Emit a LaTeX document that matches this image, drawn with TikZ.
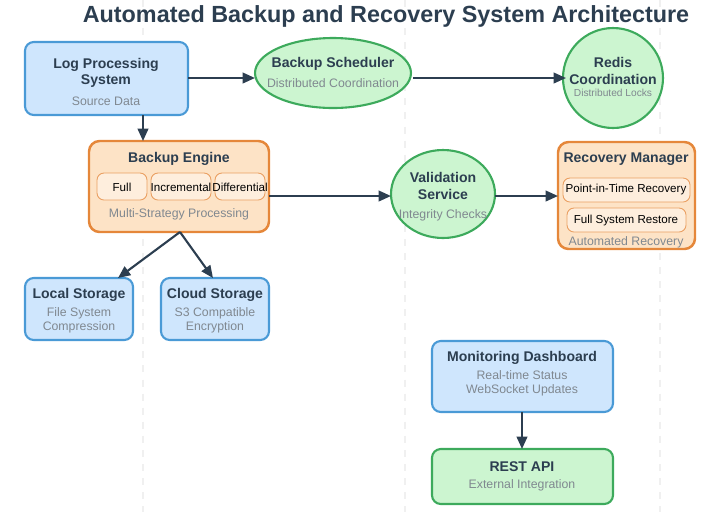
\documentclass[tikz,border=0pt]{standalone}
\usepackage{fontspec}
\setmainfont{Liberation Sans}
\usetikzlibrary{arrows.meta,shapes.geometric}
\definecolor{ink}{HTML}{2C3E50}
\definecolor{bfill}{HTML}{CFE6FD}\definecolor{bline}{HTML}{4A9AD6}
\definecolor{gfill}{HTML}{CCF5D0}\definecolor{gline}{HTML}{3DAA5C}
\definecolor{ofill}{HTML}{FDE3C6}\definecolor{oline}{HTML}{E5873A}
\definecolor{sub}{HTML}{808890}
\begin{document}
\begin{tikzpicture}[x=0.02cm,y=-0.02cm,
 every node/.style={font=\fontsize{8pt}{9.2pt}\selectfont\bfseries,text=ink,align=center,inner sep=0pt},
 blue/.style={draw=bline,line width=1.2pt,fill=bfill,rounded corners=5pt},
 green/.style={draw=gline,line width=1.2pt,fill=gfill},
 orange/.style={draw=oline,line width=1.4pt,fill=ofill,rounded corners=6pt},
 pill/.style={draw=oline!80,line width=0.5pt,fill=ofill!60,rounded corners=4pt},
 st/.style={font=\fontsize{7pt}{7.8pt}\selectfont,text=sub},
 sm/.style={font=\fontsize{6.6pt}{7pt}\selectfont,text=black},
 arr/.style={draw=ink,line width=1.2pt,-{Triangle[length=7pt,width=6pt]}},
 grid/.style={draw=gray!12,dash pattern=on 4pt off 4pt,line width=0.6pt}]
\useasboundingbox (0,0) rectangle (710,512);
\draw[grid] (143,0)--(143,512); \draw[grid] (405,0)--(405,512); \draw[grid] (660,0)--(660,512);
\node[font=\fontsize{13.3pt}{14pt}\selectfont\bfseries] (title) at (386,16) {Automated Backup and Recovery System Architecture};
% log
\draw[blue] (25,42) rectangle (188,115);
\node at (106,73) {Log Processing\\System}; \node[st] at (106,101) {Source Data};
\coordinate (logE) at (188,78); \coordinate (logS) at (143,115);
% scheduler
\node[green,ellipse,minimum width=3.12cm,minimum height=1.4cm] (sch) at (333,73) {};
\node at (333,64) {Backup Scheduler}; \node[st] at (333,83) {Distributed Coordination};
\coordinate (schW) at (255,78); \coordinate (schE) at (413,78);
% redis
\node[green,circle,minimum size=2cm] (redis) at (613,78) {};
\node at (613,71) {Redis\\Coordination}; \node[font=\fontsize{5.8pt}{6pt}\selectfont,text=sub] at (613,93) {Distributed Locks};
\coordinate (redW) at (566,78);
% engine
\draw[orange] (89,141) rectangle (269,232);
\node at (179,159) {Backup Engine};
\draw[pill] (97,173) rectangle (147,200); \node[sm] at (122,187) {Full};
\draw[pill] (151,173) rectangle (211,200); \node[sm] at (181,187) {Incremental};
\draw[pill] (215,173) rectangle (265,200); \node[sm] at (240,187) {Differential};
\node[st] at (179,214) {Multi-Strategy Processing};
\coordinate (engN) at (143,141); \coordinate (engE) at (269,196); \coordinate (engS) at (180,232);
% validation
\node[green,ellipse,minimum width=2.08cm,minimum height=1.76cm] (val) at (443,194) {};
\node at (443,186) {Validation\\Service}; \node[st] at (443,215) {Integrity Checks};
\coordinate (valW) at (391,196); \coordinate (valE) at (495,196);
% recovery
\draw[orange] (558,142) rectangle (695,249); \coordinate (recW) at (558,196);
\node at (626,159) {Recovery Manager};
\draw[pill] (563,178) rectangle (690,202); \node[sm] at (626,189) {Point-in-Time Recovery};
\draw[pill] (567,208) rectangle (686,232); \node[sm] at (626,220) {Full System Restore};
\node[st] at (626,242) {Automated Recovery};
% storage
\draw[blue] (25,278) rectangle (133,340); \coordinate (loc) at (118,278);
\node at (79,295) {Local Storage}; \node[st] at (79,320) {File System\\Compression};
\draw[blue] (161,278) rectangle (269,340); \coordinate (cld) at (213,278);
\node at (215,295) {Cloud Storage}; \node[st] at (215,320) {S3 Compatible\\Encryption};
% monitoring
\draw[blue] (432,341) rectangle (613,412); \coordinate (monS) at (522,412);
\node at (522,358) {Monitoring Dashboard}; \node[st] at (522,383) {Real-time Status\\WebSocket Updates};
\draw[green,rounded corners=5pt] (432,449) rectangle (613,504); \coordinate (restN) at (522,449);
\node at (522,467) {REST API}; \node[st] at (522,485) {External Integration};
% arrows
\draw[arr] (logE) -- (schW);
\draw[arr] (schE) -- (redW);
\draw[arr] (logS) -- (engN);
\draw[arr] (engE) -- (valW);
\draw[arr] (valE) -- (recW);
\draw[arr] (engS) -- (loc);
\draw[arr] (engS) -- (cld);
\draw[arr] (monS) -- (restN);
\end{tikzpicture}
\end{document}
